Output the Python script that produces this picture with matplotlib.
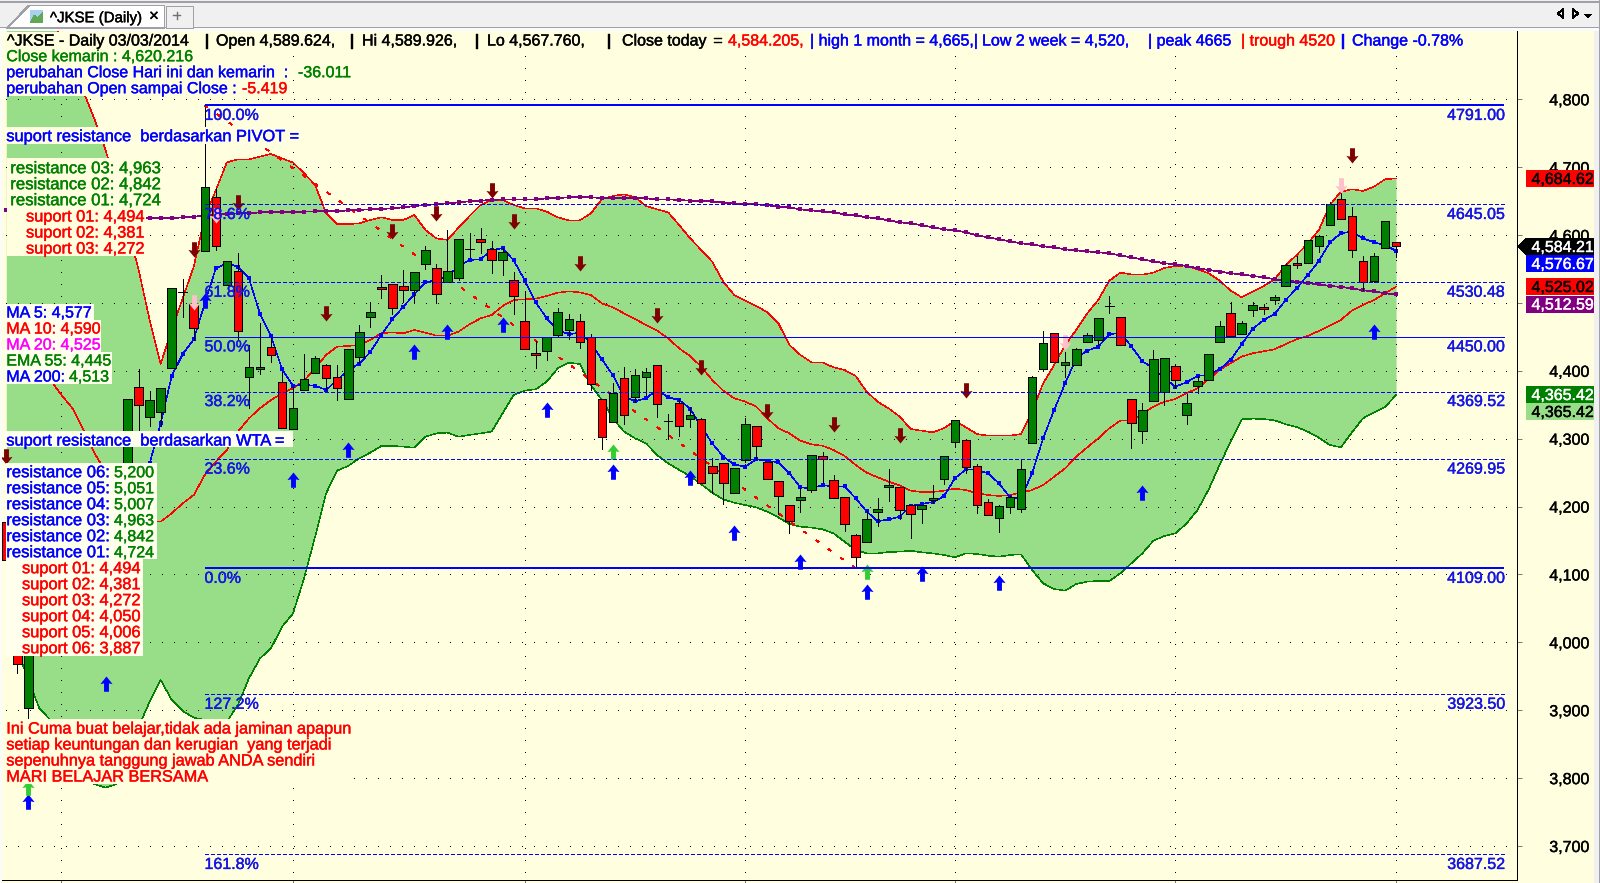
import numpy as np
import matplotlib
matplotlib.use("Agg")
import matplotlib.pyplot as plt
import matplotlib.patheffects as pe
from matplotlib.patches import Rectangle, Polygon
from matplotlib.path import Path

n = np.nan

# ohlc per bar, first bar is day -1, bars 2-9 sit behind the label boxes
opens = [4177, 3985, 3902.8, n, n, n, n, n, n, n, n, 4255,
         4376.7, 4331.5, 4338.9, 4403.7, 4516.6, 4500.4, 4576, 4655.6, 4526.5,
         4547.6, 4390.5, 4402, 4435.6, 4384, 4313.9, 4371.3, 4396.4, 4408, 4391.4,
         4358, 4419.9, 4479.8, 4523, 4527.5, 4524.5, 4518.6, 4556.9, 4551, 4530.4,
         4537.2, 4580, 4593.7, 4579.9, 4562.8, 4533.3, 4472.9, 4425.8, 4428.7, 4453.3,
         4459.6, 4472.9, 4449.3, 4358, 4324.1, 4389, 4361, 4390.4, 4408.1, 4326.6,
         4352.1, 4328.6, 4328.6, 4259.3, 4263.7, 4219.5, 4268.1, 4318.2, 4265.1, 4237,
         4201.8, 4209.2, 4223.9, 4274, 4238.7, 4213.6, 4157.6, 4147.3, 4191.5, 4228.4,
         4228.4, 4201.8, 4196, 4209.2, 4240.1, 4294.6, 4297.6, 4259.3, 4206.3, 4182.7,
         4198.9, 4196, 4293.2, 4402.2, 4455.2, 4408, 4408, 4441.9, 4444.9, 4495.5,
         4478.8, 4358, 4310.8, 4355, 4368.3, 4406.6, 4334.5, 4377.2, 4386, 4442,
         4484.7, 4453.8, 4489.2, 4493.6, 4503.9, 4524.5, 4558.4, 4558.4, 4583.4, 4614.4,
         4652.7, 4627.6, 4561.3, 4532.9, 4580.5, 4589.6]
highs = [4177, 3985, 3985, n, n, n, n, n, n, n, n, 4358,
         4402.2, 4369.8, 4375.2, 4521.6, 4534.8, 4508, 4789, 4668.9, 4562.3,
         4573, 4438, 4470, 4450, 4398.8, 4376.7, 4424.8, 4422, 4410, 4408.6,
         4431.7, 4467.5, 4500.9, 4541, 4527.5, 4548.5, 4546, 4584.4, 4557.4, 4607.5,
         4593.7, 4602.5, 4609.9, 4591.2, 4581, 4545, 4517.6, 4444, 4449.3, 4492,
         4483, 4483, 4453.8, 4358, 4381.6, 4405, 4402.2, 4403.7, 4408.1, 4335.9,
         4358, 4347.2, 4330, 4271, 4263.7, 4256.3, 4330.5, 4318.2, 4265.1, 4237,
         4201.8, 4226.9, 4275.5, 4279.9, 4246, 4213.6, 4159, 4193, 4212.2, 4255.4,
         4228.4, 4203, 4203, 4231.3, 4274, 4327, 4299, 4262, 4210.7, 4202,
         4215, 4269.6, 4391.9, 4458.1, 4455.2, 4427.2, 4434, 4455, 4477.3, 4510,
         4478.8, 4358, 4352, 4430, 4418.4, 4409.5, 4365.4, 4393, 4424.3, 4473.5,
         4501, 4473, 4501, 4498.5, 4511.8, 4558.4, 4568.7, 4592.3, 4600, 4648,
         4661.5, 4640.9, 4568.7, 4573, 4620.3, 4589.9]
lows = [4121, 3955.3, 3887, n, n, n, n, n, n, n, n, 4255,
        4310, 4319.3, 4318, 4403.7, 4479.8, 4445.5, 4576, 4578, 4526.5,
        4446, 4345, 4396, 4413.5, 4315.3, 4313.9, 4371.3, 4396.4, 4372, 4357,
        4358, 4411, 4465, 4507.8, 4483.7, 4501.9, 4501.9, 4550.5, 4500.4, 4530.4,
        4533.8, 4567.2, 4574, 4544.6, 4541.6, 4484.2, 4431.7, 4404.6, 4416, 4450,
        4447.4, 4434.1, 4371.8, 4285.3, 4324.1, 4322.2, 4353.6, 4364.4, 4332.5, 4300,
        4304.5, 4317.8, 4234.2, 4219.5, 4203.3, 4219.5, 4266, 4269.6, 4241.1, 4188.5,
        4161.5, 4192.5, 4222, 4236.7, 4212.2, 4164.5, 4111.5, 4147.3, 4171.9, 4208.7,
        4181.2, 4154.2, 4175.3, 4206, 4234, 4288, 4249, 4190, 4187.1, 4162.1,
        4190, 4191.5, 4293.2, 4399.2, 4412.5, 4391.4, 4408, 4441.9, 4437.5, 4484.7,
        4437.5, 4286.8, 4294, 4355, 4349, 4374.2, 4321, 4366.9, 4386, 4442,
        4449.4, 4453.8, 4481.3, 4484, 4498.5, 4524.5, 4551, 4558.4, 4575.6, 4614.4,
        4623.2, 4568.2, 4519, 4531, 4580.5, 4567.8]
closes = [4121, 3967.6, 3985, n, n, n, n, n, n, n, n, 4358,
          4349.2, 4356.6, 4375.2, 4521.6, 4516.6, 4462.6, 4670.4, 4583.9, 4562.3,
          4459.2, 4406.2, 4405, 4422.9, 4315.3, 4344.8, 4387.5, 4418.4, 4389, 4374.3,
          4431.7, 4456.7, 4486.2, 4520, 4492, 4518.6, 4546, 4577.5, 4512.7, 4546.6,
          4593.7, 4580, 4590.3, 4562.8, 4574.5, 4509.7, 4431.7, 4422.8, 4449.3, 4486.2,
          4475.9, 4442, 4380, 4302, 4366.8, 4334.4, 4393.4, 4397.8, 4350.7, 4326.6,
          4318.2, 4334.4, 4234.2, 4249.9, 4234.2, 4256.3, 4321.2, 4288.8, 4241.1, 4216,
          4179.2, 4213.6, 4275.5, 4270.6, 4212.2, 4173.9, 4125.2, 4181.2, 4196, 4231.3,
          4194.5, 4188.6, 4201.8, 4212.2, 4274, 4327, 4257.8, 4201.8, 4187.1, 4200.4,
          4213.6, 4254.9, 4390.4, 4440.5, 4412.5, 4412.5, 4431.6, 4452.3, 4477.3, 4495.5,
          4437.5, 4322.6, 4341.8, 4416.9, 4418.4, 4386, 4352.2, 4384.6, 4424.3, 4465.6,
          4451.4, 4470, 4496.5, 4490.6, 4508.3, 4555.5, 4555.5, 4592.3, 4598.2, 4645.3,
          4623.2, 4577.5, 4531.4, 4568.7, 4620.3, 4584.2]

# bollinger style band and averages
band_upper = [4975, 4960, 4950, 4935, 4915, 4893, 4852, 4811, 4770.5, 4725.4, 4669, 4610.5,
              4548.6, 4475, 4410, 4461, 4507, 4553.5, 4627, 4666, 4707,
              4711.6, 4711.6, 4715.5, 4719.5, 4713, 4706.7, 4691, 4673.8, 4632, 4616,
              4616, 4617.3, 4622.2, 4626.2, 4622.2, 4622.2, 4629.6, 4607.5, 4595, 4592.8,
              4610.9, 4628, 4644.3, 4651.6, 4651.6, 4644.3, 4639.4, 4639.4, 4634.5, 4626.1,
              4621.7, 4621.7, 4632, 4652.6, 4657.5, 4660, 4655.6, 4642.8, 4637.9, 4633.5,
              4614.8, 4595.2, 4578, 4560.8, 4531.3, 4511.7, 4503.4, 4495.5, 4486.2, 4470,
              4438, 4423.3, 4412.5, 4412.5, 4405.1, 4401.2, 4392.4, 4369.3, 4354.5, 4344.7,
              4332.4, 4314.3, 4311.8, 4309.4, 4315.3, 4326.6, 4316.7, 4306.9, 4304.5, 4304.5,
              4304.5, 4306.9, 4339.8, 4381.5, 4408.6, 4438, 4460.1, 4484.7, 4504.3, 4532.8,
              4544.6, 4542.1, 4541.6, 4544.6, 4551.5, 4554.4, 4555, 4549.6, 4543.7, 4532.9,
              4518.1, 4508.3, 4516.7, 4525, 4534.8, 4555.9, 4570.7, 4587.9, 4607.5, 4644.3,
              4664, 4667.4, 4665, 4671.3, 4682.1, 4683.6]
band_lower = [4020, 3988.7, 3944.5, 3902.8, 3885.6, 3846, 3817, 3797, 3791, 3786, 3791, 3836.5,
              3875.8, 3912.6, 3944.5, 3915, 3898.8, 3889, 3885.6, 3883, 3883,
              3907.7, 3947, 3976.4, 3991.1, 4023, 4042.7, 4094.4, 4155.8, 4219.6, 4253,
              4259.9, 4271.1, 4279.5, 4289.3, 4289.3, 4288.3, 4286.8, 4303, 4307.9, 4308.9,
              4303, 4305.5, 4307.9, 4310.4, 4337.4, 4364.4, 4370.8, 4372.8, 4384, 4403.7,
              4412, 4410, 4379.1, 4357, 4330, 4310.4, 4300.6, 4293.2, 4276, 4263.7,
              4254, 4245, 4233, 4220.5, 4210.6, 4205.7, 4202.3, 4198.9, 4192.5, 4184.1,
              4174.3, 4170.4, 4169, 4166.5, 4160.6, 4148.3, 4136, 4131.1, 4131.1, 4133.1,
              4133.6, 4135, 4132.6, 4131.1, 4128.7, 4125.3, 4131.1, 4130.2, 4127.7, 4126.2,
              4128.7, 4129.7, 4106.6, 4087, 4078.6, 4076.1, 4086, 4089.4, 4090.4, 4090.4,
              4101.7, 4116.4, 4131.1, 4149.8, 4156.7, 4160.6, 4175, 4195, 4225, 4261.3,
              4295.7, 4328.6, 4329.5, 4329, 4327, 4321.2, 4317.3, 4310.4, 4301.6, 4290.7,
              4287.3, 4309.4, 4330, 4338.9, 4346.7, 4364.4]
band_mid = [4480, 4455, 4430.7, 4408.6, 4386.5, 4364.4, 4344.8, 4312.9, 4278.5, 4251.5, 4222, 4200,
            4185, 4177.9, 4177.9, 4190.1, 4204.9, 4217.1, 4246.6, 4266.2, 4283.4,
            4310.4, 4330, 4344.8, 4357, 4366.9, 4374.3, 4385.5, 4403.7, 4423.4, 4435.6,
            4436.6, 4438.1, 4445.5, 4455.3, 4456.7, 4455.2, 4460.1, 4456.2, 4451.8, 4451.8,
            4457.7, 4468.5, 4477.3, 4482.2, 4495.5, 4504.3, 4505.3, 4506.3, 4510.2, 4515.1,
            4517.1, 4515.6, 4511.7, 4499.4, 4493.5, 4484.7, 4476.3, 4467.5, 4459.2, 4447.9,
            4433.1, 4421.8, 4406.1, 4386.5, 4370.8, 4359.5, 4354.6, 4347.2, 4330, 4315.3,
            4307.9, 4297.1, 4291.7, 4289.7, 4283.4, 4274.5, 4261.3, 4250, 4243.1, 4236.7,
            4231.3, 4223.4, 4221.5, 4221.5, 4223.4, 4226.4, 4224.4, 4219.5, 4217.1, 4215.6,
            4217.1, 4220.5, 4224.4, 4231.8, 4244, 4256.3, 4273.5, 4287.3, 4300.5, 4315.3,
            4326.6, 4327.5, 4336.4, 4347.2, 4354.5, 4358.5, 4366.9, 4374.3, 4387.5, 4401.3,
            4411.1, 4420.9, 4425.8, 4428.8, 4431.7, 4439.6, 4446.5, 4451.4, 4458.7, 4466.6,
            4475, 4488.7, 4497, 4504.4, 4514.2, 4524]
ma5 = [n, n, n, n, n, n, n, n, n, n, n, n,
       n, 4263.8, 4322.7, 4392.4, 4424.8, 4446.4, 4499.5, 4551, 4558.4,
       4553.5, 4536.3, 4483.8, 4451.3, 4402.2, 4378.2, 4379.2, 4378.2, 4371.8, 4386.5,
       4401.3, 4410.1, 4427.8, 4452.8, 4475.9, 4494.5, 4512.7, 4530.4, 4533.8, 4538.7,
       4554.4, 4563.3, 4564.2, 4578, 4580.4, 4562.8, 4533.3, 4500.9, 4477.3, 4460.1,
       4453.8, 4456.2, 4440.5, 4416.9, 4393.4, 4361.9, 4355.1, 4359.5, 4371.8, 4361,
       4357, 4344.3, 4317.8, 4293.2, 4273.5, 4262.2, 4258.8, 4269.6, 4267.6, 4265.1,
       4248.9, 4228.3, 4226.9, 4231.8, 4229.3, 4229.8, 4212.2, 4193, 4178.3, 4181.2,
       4185.2, 4200.9, 4203.8, 4206.8, 4215.1, 4241.6, 4254.9, 4253.9, 4249, 4234.2,
       4213.6, 4212.2, 4249, 4300.5, 4342.3, 4381.5, 4418.4, 4429.7, 4435.6, 4453.7,
       4456.2, 4436, 4414, 4403.6, 4388.9, 4376.7, 4383.1, 4392.4, 4393.9, 4402.3,
       4416, 4439.1, 4461.7, 4474.9, 4483.8, 4504.4, 4521.6, 4541.2, 4561.8, 4589.3,
       4602.6, 4605, 4595.2, 4589.3, 4585.4, 4576.6]
ma200 = [4637, 4635.5, 4634, 4633, 4632, 4631, 4630, 4629, 4628, 4627, 4626, 4625.5,
         4625, 4624.7, 4624.7, 4624.7, 4626.2, 4627.1, 4628.6, 4630, 4631,
         4632, 4632, 4633.5, 4633.5, 4633.5, 4634, 4634.5, 4635, 4635.5, 4635,
         4636.5, 4637, 4638, 4638.4, 4639.4, 4640.8, 4642.8, 4644.3, 4645.3, 4646.7,
         4648.2, 4649.7, 4650.7, 4651.6, 4652.6, 4652.6, 4652.6, 4652.6, 4654.1, 4654.6,
         4655.6, 4655.6, 4655.6, 4654.6, 4654.1, 4654.1, 4654.1, 4654.1, 4652.6, 4652.6,
         4651.6, 4650.7, 4649.7, 4649.7, 4647.7, 4646.7, 4645.3, 4645.3, 4643.8, 4641.8,
         4640.8, 4637.9, 4636.4, 4634.9, 4633.5, 4630.5, 4629, 4626.1, 4624.6, 4621.7,
         4618.7, 4617.3, 4614.3, 4611.4, 4608.4, 4607, 4604, 4599.6, 4596.6, 4593.7,
         4590.8, 4587.8, 4586.3, 4583.4, 4581.9, 4579, 4577.5, 4576, 4574.6, 4573.1,
         4570.1, 4567.2, 4564.2, 4561.3, 4558.4, 4556.9, 4554.5, 4551, 4548.6, 4546.1,
         4543.7, 4542.2, 4539.7, 4537.8, 4534.8, 4532.9, 4531.4, 4529, 4527.5, 4525,
         4523.5, 4521.6, 4518.6, 4517.2, 4514.2, 4512.7]

# zigzag from the peak to the trough
zig_days = [17, 76]
zig_vals = [4791, 4109]

# signal arrows, value is where the tip points
sell_days = [-1, 16, 20, 28, 34, 38, 43, 45, 51, 58, 62, 68, 74, 80, 86, 121]
sell_vals = [4262, 4567.2, 4637, 4473.9, 4593.8, 4621, 4655.1, 4608.9, 4547.5, 4470.9,
             4393.9, 4329.5, 4310.4, 4293.2, 4360.4, 4705.7]
pink_days = [16, 18, 95, 120]
pink_vals = [4489.6, 4617.3, 4430.6, 4661.5]
buy_days = [1, 8, 17, 25, 30, 36, 39, 44, 48, 54, 61, 65, 71, 77, 82, 89, 102, 123]
buy_vals = [3776.6, 3950.4, 4514, 4251.5, 4295.7, 4439.5, 4469, 4478.8, 4353.6, 4262.8,
            4253.9, 4172.9, 4130.2, 4086, 4112.5, 4099.2, 4231.8, 4469]
green_days = [1, 54, 77]
green_vals = [3797, 4291.7, 4114.9]

# fibonacci levels
fib_vals = [4791, 4645.05, 4530.48, 4450, 4369.52, 4269.95, 4109, 3923.5, 3687.52]
fib_pct = ["100.0%", "78.6%", "61.8%", "50.0%", "38.2%", "23.6%", "0.0%", "127.2%", "161.8%"]
fib_right = ["4791.00", "4645.05", "4530.48", "4450.00", "4369.52", "4269.95", "4109.00",
             "3923.50", "3687.52"]
fib_width = [2, 1, 1, 1, 1, 1, 2, 1, 1]
fib_solid = [True, False, False, True, False, False, True, False, False]

yticks = [4800, 4700, 4600, 4500, 4400, 4300, 4200, 4100, 4000, 3900, 3800, 3700]
ytick_labels = ["4,800", "4,700", "4,600", "4,500", "4,400", "4,300", "4,200", "4,100",
                "4,000", "3,900", "3,800", "3,700"]
month_days = [4, 25, 46, 66, 85, 105, 125]

res_pivot = [("resistance 03: 4,963", 167.7), ("resistance 02: 4,842", 183.7), ("resistance 01: 4,724", 199.7)]
sup_pivot = [("suport 01: 4,494", 216), ("suport 02: 4,381", 232), ("suport 03: 4,272", 248)]
res_wta = ["06", "05", "04", "03", "02", "01"]
res_wta_vals = ["5,200", "5,051", "5,007", "4,963", "4,842", "4,724"]
sup_wta = ["suport 01: 4,494", "suport 02: 4,381", "suport 03: 4,272", "suport 04: 4,050",
           "suport 05: 4,006", "suport 06: 3,887"]
disclaimer = ["Ini Cuma buat belajar,tidak ada jaminan apapun",
              "setiap keuntungan dan kerugian  yang terjadi",
              "sepenuhnya tanggung jawab ANDA sendiri",
              "MARI BELAJAR BERSAMA"]

IVORY = "#FFFFE0"
BOX = "#FFFFEE"
BAND = "#98DE88"
BLUE = "#0000FF"
RED = "#FF0000"
PX = 0.72  # one pixel in points at dpi 100
LW = 0.36  # aliased lines come out one pixel wide with this
FS = 16 * PX

plt.rcParams["font.family"] = ["Liberation Sans", "DejaVu Sans"]
plt.rcParams["lines.antialiased"] = False
plt.rcParams["patch.antialiased"] = False
plt.rcParams["lines.solid_capstyle"] = "butt"
plt.rcParams["lines.dash_capstyle"] = "butt"

fig = plt.figure(figsize=(16, 8.83), dpi=100, facecolor=IVORY)
ax = fig.add_axes([2 / 1600, 3 / 883, 1515.3 / 1600, 849 / 883], facecolor=IVORY)

days = np.arange(-1, 126)
opens = np.array(opens, float)
highs = np.array(highs, float)
lows = np.array(lows, float)
closes = np.array(closes, float)
assert all(len(a) == len(days) for a in [opens, highs, lows, closes, band_upper, band_lower,
                                         band_mid, ma5, ma200])

# band
ax.fill_between(days, band_lower, band_upper, color=BAND, lw=0, zorder=1)

# dotted grid
ax.hlines(yticks, -1, 135.3, colors="black", lw=PX, linestyles=(0, (1, 11.7)), zorder=2)
ax.vlines(month_days, 3640, 4910, colors="black", lw=PX, linestyles=(0, (1, 11.7)), zorder=2)

# lines
ax.plot(days, band_upper, color=RED, lw=LW, zorder=3)
ax.plot(days, band_mid, color=RED, lw=LW, zorder=3)
ax.plot(days, band_lower, color="#008000", lw=LW, zorder=3)
ax.plot(zig_days, zig_vals, color=RED, lw=LW, ls=(0, (6, 22)), zorder=3)
ax.plot(days, ma5, color=BLUE, lw=LW, marker="s", ms=2.4, mew=0, zorder=3)
ax.plot(days, ma200, color="#800080", lw=0.5, marker="s", ms=3, mew=0, zorder=3)

# candles
up = closes >= opens
body_color = np.where(up, "#008000", RED)
ax.vlines(days, lows, highs, colors="black", lw=LW, zorder=4)
ax.bar(days, closes - opens, bottom=opens, width=0.78, color=body_color, edgecolor="black",
       linewidth=0.7, zorder=5)

# arrows, tip on the origin
arrow_up = Path([(0, 0), (0.4, -0.5), (0.16, -0.45), (0.16, -1), (-0.16, -1), (-0.16, -0.45),
                 (-0.4, -0.5), (0, 0)], closed=True)
arrow_down = Path([(0, 0), (0.4, 0.5), (0.16, 0.45), (0.16, 1), (-0.16, 1), (-0.16, 0.45),
                   (-0.4, 0.5), (0, 0)], closed=True)
ax.plot(sell_days, sell_vals, ls="none", marker=arrow_down, ms=22, mew=0, color="#7F0000", zorder=6)
ax.plot(pink_days, pink_vals, ls="none", marker=arrow_down, ms=22, mew=0, color="#FFC0CB", zorder=6)
ax.plot(buy_days, buy_vals, ls="none", marker=arrow_up, ms=22, mew=0, color=BLUE, zorder=6)
ax.plot(green_days, green_vals, ls="none", marker=arrow_up, ms=22, mew=0, color="#32CD32", zorder=6)

# fibonacci lines go over the candles
for val, width, solid in zip(fib_vals, fib_width, fib_solid):
    thick = 1.44 if width == 2 else LW
    ax.hlines(val, 17, 134.8, colors=BLUE, lw=thick,
              linestyles="solid" if solid else (0, (8, 5.5)), zorder=7)

ax.set_xlim(-1.387, 135.99)
ax.set_ylim(3649.9, 4900.6)
ax.set_yticks(yticks)
ax.set_yticklabels(ytick_labels)
ax.yaxis.tick_right()
ax.tick_params(axis="y", length=5 * PX, width=LW, pad=27 * PX, labelsize=FS, colors="black")
for tick in ax.get_yticklabels():
    tick.set_path_effects([pe.withStroke(linewidth=0.3, foreground="black")])
ax.set_xticks(month_days)
ax.set_xticklabels([])
ax.tick_params(axis="x", length=3 * PX, width=LW)
for side in ["left", "top"]:
    ax.spines[side].set_visible(False)
for side in ["right", "bottom"]:
    ax.spines[side].set_linewidth(PX)

# everything else is written in pixel coordinates on a full figure overlay
ov = fig.add_axes([0, 0, 1, 1], facecolor="none")
ov.set_xlim(0, 1600)
ov.set_ylim(883, 0)
ov.axis("off")


def rect(x0, y0, x1, y1, color, z=8):
    ov.add_patch(Rectangle((x0, y0), x1 - x0, y1 - y0, facecolor=color, edgecolor="none", zorder=z))


def label(x, y, s, color="black", ha="left", z=10, size=FS, **kw):
    t = ov.text(x, y + 5.5, s, color=color, ha=ha, va="baseline", fontsize=size, zorder=z, **kw)
    t.set_path_effects([pe.withStroke(linewidth=0.3, foreground=color)])


# label boxes that hide the chart, the top ones and the disclaimer match the background
for box in [(6, 32, 1462, 48), (6, 48, 197, 64), (6, 64, 352, 80), (6, 80, 288, 96),
            (6, 127, 300, 144), (7, 158, 160, 207), (7, 207, 146, 256),
            (6, 719, 352, 784)]:
    rect(*box, IVORY)
for box in [(5, 304, 94, 320), (5, 320, 101, 352), (5, 352, 112, 384),
            (5, 431, 293, 447), (6, 463, 157, 559), (6, 559, 143, 656)]:
    rect(*box, BOX)

# header text
label(7, 40, "^JKSE - Daily 03/03/2014")
label(205, 40, "|")
label(216, 40, "Open 4,589.624,")
label(350, 40, "|")
label(362, 40, "Hi 4,589.926,")
label(475, 40, "|")
label(487, 40, "Lo 4,567.760,")
label(607, 40, "|")
label(622, 40, "Close today")
label(713, 40, "=")
label(728, 40, "4,584.205,", RED)
label(810, 40, "| high 1 month = 4,665,|", BLUE)
label(982, 40, "Low 2 week = 4,520,", BLUE)
label(1148, 40, "| peak 4665", BLUE)
label(1241, 40, "| trough 4520", RED)
label(1341, 40, "|", BLUE)
label(1352, 40, "Change -0.78%", BLUE)

label(6.3, 55.7, "Close kemarin : 4,620.216", "#008000")
label(6.3, 71.7, "perubahan Close Hari ini dan kemarin  :", BLUE)
label(298, 71.7, "-36.011", "#008000")
label(6.3, 87.7, "perubahan Open sampai Close :", BLUE)
label(242, 87.7, "-5.419", RED)

# these groups run a little wider in the reference
label(6.3, 135.7, "suport resistance  berdasarkan PIVOT =", BLUE, size=FS * 1.025)
for text, y in res_pivot:
    label(10.3, y, text, "#008000", size=FS * 1.045)
for text, y in sup_pivot:
    label(26, y, text, RED, size=FS * 1.025)

label(6.3, 312, "MA 5: 4,577", BLUE)
label(6.3, 328, "MA 10: 4,590", RED)
label(6.3, 344, "MA 20: 4,525", "#FF00FF")
label(6.3, 360, "EMA 55: 4,445", "#008000")
label(6.3, 376, "MA 200:", BLUE)
label(69, 376, "4,513", "#008000")

label(6.3, 440, "suport resistance  berdasarkan WTA =", BLUE, size=FS * 1.025)
for k, (num, val) in enumerate(zip(res_wta, res_wta_vals)):
    label(6.3, 471.7 + 16 * k, "resistance %s:" % num, BLUE, size=FS * 1.04)
    label(114, 471.7 + 16 * k, val, "#008000")
for k, text in enumerate(sup_wta):
    label(22, 567.7 + 16 * k, text, RED, size=FS * 1.025)
for k, text in enumerate(disclaimer):
    label(6.3, 728 + 16 * k, text, RED, size=FS * 1.018)

# fibonacci labels, under their lines
y_px = lambda v: 99.3 + (4800 - v) * 0.6788
for val, pct, right in zip(fib_vals, fib_pct, fib_right):
    label(204.5, y_px(val) + 9, pct, "#1414E6", z=9)
    label(1505, y_px(val) + 9, right, "#1414E6", ha="right", z=9)

# last value tags on the axis
tag_text = ["4,684.62", "4,584.21", "4,576.67", "4,525.02", "4,512.59", "4,365.42", "4,365.42"]
tag_fill = [RED, "black", BLUE, RED, "#800080", "#008000", BAND]
tag_ink = ["black", "white", "white", "black", "white", "white", "black"]
tag_top = [170, 238, 255, 278, 295.5, 386, 403]
for text, fill, ink, top in zip(tag_text, tag_fill, tag_ink, tag_top):
    rect(1526, top, 1594, top + 17, fill, z=11)
    label(1531.5, top + 8.5, text, ink, z=12)
ov.add_patch(Polygon([(1518, 246.5), (1527, 238), (1527, 255)], facecolor="black", edgecolor="none", zorder=11))

# window chrome
rect(1594, 28, 1600, 883, "#F0F0F0", z=13)
rect(1599, 0, 1600, 883, "#A0A0A8", z=14)
rect(0, 28, 1600, 31, "#FBFBFB", z=13)
rect(0, 31, 2, 883, "#FBFBFB", z=13)
rect(0, 0, 1600, 27, "#F0F0F0", z=13)
rect(0, 1, 1600, 2.5, "#A0A0A8", z=14)
rect(0, 27, 1600, 28, "#A0A0A8", z=14)
ov.add_patch(Polygon([(7, 28), (29, 5.5), (164.5, 5.5), (164.5, 28)], facecolor="#FFFFFF", edgecolor="#A0A0A8",
                     linewidth=PX, zorder=15))
ov.add_patch(Polygon([(166, 28), (166, 5.5), (192.5, 5.5), (192.5, 28)], facecolor="#F0F0F0", edgecolor="#A0A0A8",
                     linewidth=PX, zorder=15))
rect(30, 10, 43, 23, "#A8D0F0", z=16)
ov.add_patch(Polygon([(30, 23), (34, 15), (38, 18), (43, 12), (43, 23)], facecolor="#5FA858", edgecolor="none", zorder=17))
label(50, 16.7, "^JKSE (Daily)", z=16, size=15 * PX)
label(149, 15.5, "\u00d7", z=16, size=17 * PX)
label(172.5, 15.5, "+", "#707070", z=16, size=16 * PX)
ov.add_patch(Polygon([(1563, 9), (1558, 13.5), (1563, 18)], facecolor="#F0F0F0", edgecolor="black", linewidth=PX, zorder=16))
ov.add_patch(Polygon([(1573, 9), (1578, 13.5), (1573, 18)], facecolor="#F0F0F0", edgecolor="black", linewidth=PX, zorder=16))
ov.add_patch(Polygon([(1584, 14), (1592, 14), (1588, 18)], facecolor="black", edgecolor="none", zorder=16))

fig.savefig("out.png", dpi=100, facecolor=IVORY)
